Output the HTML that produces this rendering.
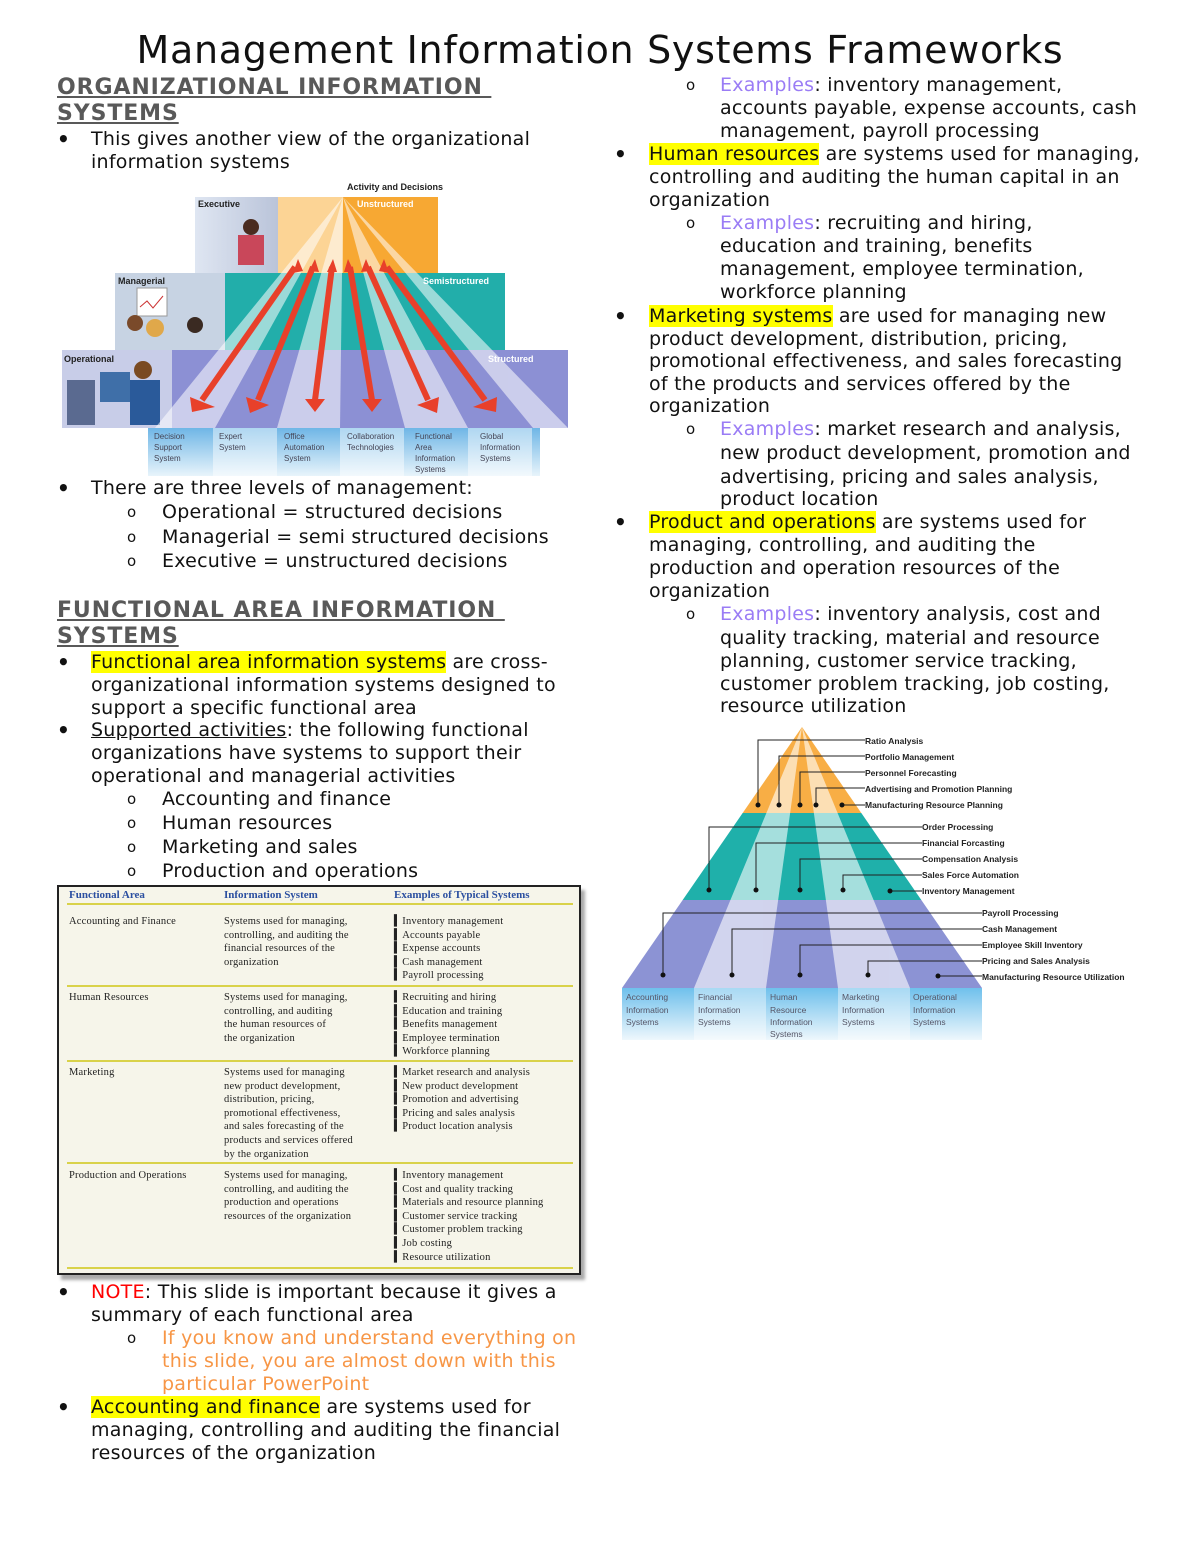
<!DOCTYPE html>
<html><head><meta charset="utf-8"><style>
*{margin:0;padding:0;box-sizing:border-box}
body{width:1200px;height:1553px;background:#fff;position:relative;overflow:hidden;font-family:"DejaVu Sans","Liberation Sans",sans-serif;color:#111}
.l{position:absolute;font-size:19px;letter-spacing:0.25px;white-space:nowrap;line-height:23px}
.h{position:absolute;font-size:22px;font-weight:bold;color:#595959;text-decoration:underline;white-space:nowrap;line-height:26px;letter-spacing:0.9px}
.hl{background:#ffff00}
.ex{color:#9a7cf5}
.b{position:absolute;font-size:20px;font-weight:bold;line-height:23px}
.o{position:absolute;font-size:15px;line-height:23px}
.t{position:absolute;font-family:"Liberation Serif",serif;font-size:10.5px;line-height:13.6px;color:#222;white-space:nowrap;letter-spacing:0.2px}
.th{position:absolute;font-family:"Liberation Serif",serif;font-size:11px;font-weight:bold;color:#2b4fa0;white-space:nowrap}
.yl{position:absolute;left:8px;width:506px;height:2px;background:#d9d24a}
svg text{font-family:"Liberation Sans",sans-serif}
</style></head><body>

<div style="position:absolute;top:27px;left:0;width:1200px;text-align:center;font-size:38px;line-height:46px;letter-spacing:0.7px">Management Information Systems Frameworks</div>

<!-- LEFT COLUMN -->
<div class="h" style="left:57px;top:75px">ORGANIZATIONAL INFORMATION&nbsp;</div>
<div class="h" style="left:57px;top:101px">SYSTEMS</div>
<div class="b" style="left:57px;top:128px">•</div>
<div class="l" style="left:91px;top:128px">This gives another view of the organizational</div>
<div class="l" style="left:91px;top:151px">information systems</div>

<svg style="position:absolute;left:55px;top:175px" width="530" height="305" viewBox="0 0 530 305">
<defs>
<linearGradient id="lb" x1="0" y1="0" x2="0" y2="1"><stop offset="0" stop-color="#6fb6e6"/><stop offset="1" stop-color="#e8f4fb"/></linearGradient>
<linearGradient id="ph" x1="0" y1="0" x2="1" y2="0"><stop offset="0" stop-color="#dfe6f2"/><stop offset="1" stop-color="#b9c3d9"/></linearGradient>
</defs>
<text x="292" y="15" font-size="9" font-weight="bold" fill="#222">Activity and Decisions</text>
<rect x="140" y="22" width="85" height="76" fill="url(#ph)"/>
<rect x="223" y="22" width="160" height="76" fill="#f7a833"/>
<rect x="223" y="22" width="65" height="76" fill="#fcd495"/>
<text x="302" y="32" font-size="9" font-weight="bold" fill="#fff">Unstructured</text>
<text x="143" y="32" font-size="9" font-weight="bold" fill="#222">Executive</text>
<circle cx="196" cy="52" r="8" fill="#4a2c20"/><rect x="183" y="60" width="26" height="30" fill="#c9475a"/>
<rect x="60" y="98" width="390" height="77" fill="#22aeaa"/>
<rect x="60" y="98" width="110" height="77" fill="#c7d3e3"/>
<text x="368" y="109" font-size="9" font-weight="bold" fill="#fff">Semistructured</text>
<text x="63" y="109" font-size="9" font-weight="bold" fill="#222">Managerial</text>
<rect x="82" y="113" width="30" height="28" fill="#fff" stroke="#999"/><polyline points="85,132 92,126 98,133 108,121" fill="none" stroke="#c33"/>
<circle cx="80" cy="148" r="8" fill="#7a4a2a"/><circle cx="100" cy="153" r="9" fill="#e0a84a"/><circle cx="140" cy="150" r="8" fill="#3a2a22"/>
<rect x="7" y="175" width="506" height="78" fill="#8c90d4"/>
<rect x="7" y="175" width="110" height="78" fill="#c8cde8"/>
<text x="433" y="187" font-size="9" font-weight="bold" fill="#fff">Structured</text>
<text x="9" y="187" font-size="9" font-weight="bold" fill="#222">Operational</text>
<rect x="12" y="205" width="28" height="45" fill="#5a6a90"/><rect x="45" y="197" width="30" height="30" fill="#3f6fa8"/>
<circle cx="88" cy="195" r="9" fill="#7a4a22"/><rect x="75" y="205" width="30" height="45" fill="#2a5a9a"/>
<g opacity="0.55">
<polygon points="288,22 100,253 160,253" fill="#fff"/>
<polygon points="288,22 222,253 285,253" fill="#fff"/>
<polygon points="288,22 350,253 413,253" fill="#fff"/>
<polygon points="288,22 478,253 513,253" fill="#fff"/>
</g>
<rect x="93" y="253" width="392" height="48" fill="url(#lb)"/>
<rect x="158" y="253" width="64" height="48" fill="#fff" opacity="0.45"/>
<rect x="285" y="253" width="64" height="48" fill="#fff" opacity="0.45"/>
<rect x="413" y="253" width="64" height="48" fill="#fff" opacity="0.45"/>
<g stroke="#e8402a" stroke-width="6" fill="#e8402a">
<line x1="240" y1="92" x2="147" y2="225"/><line x1="258" y1="92" x2="203" y2="225"/><line x1="277" y1="92" x2="260" y2="225"/>
<line x1="295" y1="92" x2="317" y2="225"/><line x1="313" y1="92" x2="373" y2="225"/><line x1="332" y1="92" x2="430" y2="225"/>
</g>
<g fill="#e8402a">
<polygon points="135,222 160,232 137,237"/><polygon points="191,222 214,230 195,238"/><polygon points="250,224 270,224 260,237"/>
<polygon points="307,224 327,224 317,237"/><polygon points="362,230 384,222 382,238"/><polygon points="418,232 442,222 441,237"/>
<polygon points="243,84 238,98 248,96"/><polygon points="260,84 254,96 264,97"/><polygon points="278,84 272,97 282,97"/>
<polygon points="293,84 289,97 299,97"/><polygon points="311,84 306,97 316,96"/><polygon points="329,84 324,96 334,98"/>
</g>
<g font-size="8" fill="#445">
<text x="99" y="264">Decision</text><text x="99" y="275">Support</text><text x="99" y="286">System</text>
<text x="164" y="264">Expert</text><text x="164" y="275">System</text>
<text x="229" y="264">Office</text><text x="229" y="275">Automation</text><text x="229" y="286">System</text>
<text x="292" y="264">Collaboration</text><text x="292" y="275">Technologies</text>
<text x="360" y="264">Functional</text><text x="360" y="275">Area</text><text x="360" y="286">Information</text><text x="360" y="297">Systems</text>
<text x="425" y="264">Global</text><text x="425" y="275">Information</text><text x="425" y="286">Systems</text>
</g>
</svg>

<div class="b" style="left:57px;top:477px">•</div>
<div class="l" style="left:91px;top:477px">There are three levels of management:</div>
<div class="o" style="left:127px;top:501px">o</div><div class="l" style="left:162px;top:501px">Operational = structured decisions</div>
<div class="o" style="left:127px;top:526px">o</div><div class="l" style="left:162px;top:526px">Managerial = semi structured decisions</div>
<div class="o" style="left:127px;top:550px">o</div><div class="l" style="left:162px;top:550px">Executive = unstructured decisions</div>

<div class="h" style="left:57px;top:598px">FUNCTIONAL AREA INFORMATION&nbsp;</div>
<div class="h" style="left:57px;top:624px">SYSTEMS</div>
<div class="b" style="left:57px;top:651px">•</div>
<div class="l" style="left:91px;top:651px"><span class="hl">Functional area information systems</span> are cross-</div>
<div class="l" style="left:91px;top:674px">organizational information systems designed to</div>
<div class="l" style="left:91px;top:697px">support a specific functional area</div>
<div class="b" style="left:57px;top:719px">•</div>
<div class="l" style="left:91px;top:719px"><u>Supported activities</u>: the following functional</div>
<div class="l" style="left:91px;top:742px">organizations have systems to support their</div>
<div class="l" style="left:91px;top:765px">operational and managerial activities</div>
<div class="o" style="left:127px;top:788px">o</div><div class="l" style="left:162px;top:788px">Accounting and finance</div>
<div class="o" style="left:127px;top:812px">o</div><div class="l" style="left:162px;top:812px">Human resources</div>
<div class="o" style="left:127px;top:836px">o</div><div class="l" style="left:162px;top:836px">Marketing and sales</div>
<div class="o" style="left:127px;top:860px">o</div><div class="l" style="left:162px;top:860px">Production and operations</div>

<div style="position:absolute;left:57px;top:885px;width:524px;height:390px;border:2px solid #222;background:#f6f5ea;box-shadow:4px 5px 3px #aaa">
<div class="th" style="left:10px;top:2px">Functional Area</div>
<div class="th" style="left:165px;top:2px">Information System</div>
<div class="th" style="left:335px;top:2px">Examples of Typical Systems</div>
<div class="yl" style="top:16px"></div>
<div class="t" style="left:10px;top:28px">Accounting and Finance</div>
<div class="t" style="left:165px;top:28px">Systems used for managing,<br>controlling, and auditing the<br>financial resources of the<br>organization</div>
<div class="t" style="left:335px;top:28px">▍Inventory management<br>▍Accounts payable<br>▍Expense accounts<br>▍Cash management<br>▍Payroll processing</div>
<div class="yl" style="top:98px"></div>
<div class="t" style="left:10px;top:104px">Human Resources</div>
<div class="t" style="left:165px;top:104px">Systems used for managing,<br>controlling, and auditing<br>the human resources of<br>the organization</div>
<div class="t" style="left:335px;top:104px">▍Recruiting and hiring<br>▍Education and training<br>▍Benefits management<br>▍Employee termination<br>▍Workforce planning</div>
<div class="yl" style="top:173px"></div>
<div class="t" style="left:10px;top:179px">Marketing</div>
<div class="t" style="left:165px;top:179px">Systems used for managing<br>new product development,<br>distribution, pricing,<br>promotional effectiveness,<br>and sales forecasting of the<br>products and services offered<br>by the organization</div>
<div class="t" style="left:335px;top:179px">▍Market research and analysis<br>▍New product development<br>▍Promotion and advertising<br>▍Pricing and sales analysis<br>▍Product location analysis</div>
<div class="yl" style="top:275px"></div>
<div class="t" style="left:10px;top:282px">Production and Operations</div>
<div class="t" style="left:165px;top:282px">Systems used for managing,<br>controlling, and auditing the<br>production and operations<br>resources of the organization</div>
<div class="t" style="left:335px;top:282px">▍Inventory management<br>▍Cost and quality tracking<br>▍Materials and resource planning<br>▍Customer service tracking<br>▍Customer problem tracking<br>▍Job costing<br>▍Resource utilization</div>
<div class="yl" style="top:380px"></div>
</div>

<div class="b" style="left:57px;top:1281px">•</div>
<div class="l" style="left:91px;top:1281px"><span style="color:#ff0000">NOTE</span>: This slide is important because it gives a</div>
<div class="l" style="left:91px;top:1304px">summary of each functional area</div>
<div class="o" style="left:127px;top:1327px">o</div>
<div class="l" style="left:162px;top:1327px;color:#f79646">If you know and understand everything on</div>
<div class="l" style="left:162px;top:1350px;color:#f79646">this slide, you are almost down with this</div>
<div class="l" style="left:162px;top:1373px;color:#f79646">particular PowerPoint</div>
<div class="b" style="left:57px;top:1396px">•</div>
<div class="l" style="left:91px;top:1396px"><span class="hl">Accounting and finance</span> are systems used for</div>
<div class="l" style="left:91px;top:1419px">managing, controlling and auditing the financial</div>
<div class="l" style="left:91px;top:1442px">resources of the organization</div>

<!-- RIGHT COLUMN -->
<div class="o" style="left:686px;top:74px">o</div>
<div class="l" style="left:720px;top:74px"><span class="ex">Examples</span>: inventory management,</div>
<div class="l" style="left:720px;top:97px">accounts payable, expense accounts, cash</div>
<div class="l" style="left:720px;top:120px">management, payroll processing</div>
<div class="b" style="left:614px;top:143px">•</div>
<div class="l" style="left:649px;top:143px"><span class="hl">Human resources</span> are systems used for managing,</div>
<div class="l" style="left:649px;top:166px">controlling and auditing the human capital in an</div>
<div class="l" style="left:649px;top:189px">organization</div>
<div class="o" style="left:686px;top:212px">o</div>
<div class="l" style="left:720px;top:212px"><span class="ex">Examples</span>: recruiting and hiring,</div>
<div class="l" style="left:720px;top:235px">education and training, benefits</div>
<div class="l" style="left:720px;top:258px">management, employee termination,</div>
<div class="l" style="left:720px;top:281px">workforce planning</div>
<div class="b" style="left:614px;top:305px">•</div>
<div class="l" style="left:649px;top:305px"><span class="hl">Marketing systems</span> are used for managing new</div>
<div class="l" style="left:649px;top:328px">product development, distribution, pricing,</div>
<div class="l" style="left:649px;top:350px">promotional effectiveness, and sales forecasting</div>
<div class="l" style="left:649px;top:373px">of the products and services offered by the</div>
<div class="l" style="left:649px;top:395px">organization</div>
<div class="o" style="left:686px;top:418px">o</div>
<div class="l" style="left:720px;top:418px"><span class="ex">Examples</span>: market research and analysis,</div>
<div class="l" style="left:720px;top:442px">new product development, promotion and</div>
<div class="l" style="left:720px;top:466px">advertising, pricing and sales analysis,</div>
<div class="l" style="left:720px;top:488px">product location</div>
<div class="b" style="left:614px;top:511px">•</div>
<div class="l" style="left:649px;top:511px"><span class="hl">Product and operations</span> are systems used for</div>
<div class="l" style="left:649px;top:534px">managing, controlling, and auditing the</div>
<div class="l" style="left:649px;top:557px">production and operation resources of the</div>
<div class="l" style="left:649px;top:580px">organization</div>
<div class="o" style="left:686px;top:603px">o</div>
<div class="l" style="left:720px;top:603px"><span class="ex">Examples</span>: inventory analysis, cost and</div>
<div class="l" style="left:720px;top:627px">quality tracking, material and resource</div>
<div class="l" style="left:720px;top:650px">planning, customer service tracking,</div>
<div class="l" style="left:720px;top:673px">customer problem tracking, job costing,</div>
<div class="l" style="left:720px;top:695px">resource utilization</div>

<svg style="position:absolute;left:615px;top:720px" width="530" height="330" viewBox="0 0 530 330">
<defs>
<linearGradient id="lb2" x1="0" y1="0" x2="0" y2="1"><stop offset="0" stop-color="#6fc0ec"/><stop offset="1" stop-color="#eef7fc"/></linearGradient>
<clipPath id="tri"><polygon points="187,7 7,268 367,268"/></clipPath>
</defs>
<g clip-path="url(#tri)">
<rect x="0" y="0" width="380" height="93" fill="#f8ae45"/>
<rect x="0" y="93" width="380" height="87" fill="#1fb0aa"/>
<rect x="0" y="180" width="380" height="88" fill="#8c93d4"/>
<g fill="#fff" opacity="0.6">
<polygon points="187,7 79,268 151,268"/><polygon points="187,7 223,268 295,268"/>
</g>
</g>
<rect x="7" y="268" width="360" height="52" fill="url(#lb2)"/>
<rect x="79" y="268" width="72" height="52" fill="#fff" opacity="0.4"/>
<rect x="223" y="268" width="72" height="52" fill="#fff" opacity="0.4"/>
<g stroke="#222" stroke-width="1" fill="none">
<polyline points="143,85 143,20 250,20"/><polyline points="164,85 164,36 250,36"/><polyline points="185,85 185,52 250,52"/><polyline points="201,85 201,68 250,68"/><polyline points="227,85 250,85"/>
<polyline points="94,170 94,107 307,107"/><polyline points="141,170 141,123 307,123"/><polyline points="185,170 185,139 307,139"/><polyline points="228,170 228,155 307,155"/><polyline points="275,171 307,171"/>
<polyline points="48,255 48,193 367,193"/><polyline points="117,255 117,209 367,209"/><polyline points="185,255 185,225 367,225"/><polyline points="253,255 253,241 367,241"/><polyline points="323,256 367,256"/>
</g>
<g fill="#111">
<circle cx="143" cy="85" r="2.5"/><circle cx="164" cy="85" r="2.5"/><circle cx="185" cy="85" r="2.5"/><circle cx="201" cy="85" r="2.5"/><circle cx="227" cy="85" r="2.5"/>
<circle cx="94" cy="170" r="2.5"/><circle cx="141" cy="170" r="2.5"/><circle cx="185" cy="170" r="2.5"/><circle cx="228" cy="170" r="2.5"/><circle cx="275" cy="171" r="2.5"/>
<circle cx="48" cy="255" r="2.5"/><circle cx="117" cy="255" r="2.5"/><circle cx="185" cy="255" r="2.5"/><circle cx="253" cy="255" r="2.5"/><circle cx="323" cy="256" r="2.5"/>
</g>
<g font-size="8.5" font-weight="bold" fill="#222">
<text x="250" y="24">Ratio Analysis</text><text x="250" y="40">Portfolio Management</text><text x="250" y="56">Personnel Forecasting</text><text x="250" y="72">Advertising and Promotion Planning</text><text x="250" y="88">Manufacturing Resource Planning</text>
<text x="307" y="110">Order Processing</text><text x="307" y="126">Financial Forcasting</text><text x="307" y="142">Compensation Analysis</text><text x="307" y="158">Sales Force Automation</text><text x="307" y="174">Inventory Management</text>
<text x="367" y="196">Payroll Processing</text><text x="367" y="212">Cash Management</text><text x="367" y="228">Employee Skill Inventory</text><text x="367" y="244">Pricing and Sales Analysis</text><text x="367" y="260">Manufacturing Resource Utilization</text>
</g>
<g font-size="8.5" fill="#556">
<text x="11" y="280">Accounting</text><text x="11" y="293">Information</text><text x="11" y="305">Systems</text>
<text x="83" y="280">Financial</text><text x="83" y="293">Information</text><text x="83" y="305">Systems</text>
<text x="155" y="280">Human</text><text x="155" y="293">Resource</text><text x="155" y="305">Information</text><text x="155" y="317">Systems</text>
<text x="227" y="280">Marketing</text><text x="227" y="293">Information</text><text x="227" y="305">Systems</text>
<text x="298" y="280">Operational</text><text x="298" y="293">Information</text><text x="298" y="305">Systems</text>
</g>
</svg>

</body></html>
